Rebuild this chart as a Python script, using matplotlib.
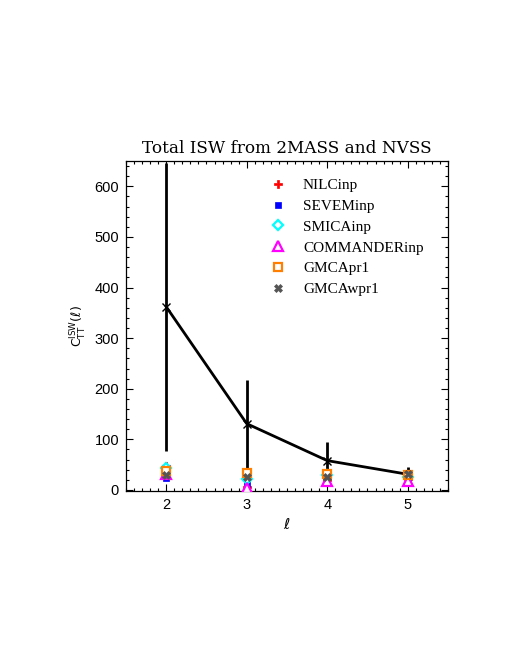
import matplotlib
matplotlib.use('Agg')
import matplotlib.pyplot as plt
from matplotlib.ticker import MultipleLocator

plt.rcParams.update({'font.family': 'Liberation Sans', 'font.size': 10})

# multipoles and total ISW spectrum with errors
ell = [2, 3, 4, 5]
cl_total = [362, 131, 58, 31]
cl_err = [285, 87, 36, 15]

# individual component-separated maps
names = ['NILCinp', 'SEVEMinp', 'SMICAinp', 'COMMANDERinp', 'GMCApr1', 'GMCAwpr1']
cl_nilc = [48, 6, 20, 22]
cl_sevem = [23, 9, 22, 24]
cl_smica = [43, 21, 30, 25]
cl_commander = [31, 4, 17, 18]
cl_gmcapr1 = [37, 34, 31, 29]
cl_gmcawpr1 = [29, 25, 26, 31]

series = [cl_nilc, cl_sevem, cl_smica, cl_commander, cl_gmcapr1, cl_gmcawpr1]
styles = [
    dict(marker='P', color='red', mfc='red', ms=5.5, mew=0.5),
    dict(marker='s', color='blue', mfc='blue', ms=5, mew=0.5),
    dict(marker='D', color='cyan', mfc='white', ms=5, mew=1.6),
    dict(marker='^', color='magenta', mfc='white', ms=6.5, mew=1.6),
    dict(marker='s', color='#ff7f00', mfc='white', ms=6, mew=1.6),
    dict(marker='X', color='#555555', mfc='#555555', ms=5.5, mew=0.5),
]

fig = plt.figure(figsize=(5.18, 6.70), dpi=100)
ax = fig.add_axes([0.2432, 0.2672, 0.6216, 0.4925])

ax.errorbar(ell, cl_total, yerr=cl_err, color='k', lw=2, elinewidth=2,
            marker='x', ms=6, mew=1, capsize=0, zorder=2)

for name, vals, st in zip(names, series, styles):
    ax.plot(ell, vals, ls='none', label=name, zorder=3, **st)

ax.set_xlim(1.5, 5.5)
ax.set_ylim(-2, 650)
ax.set_xticks(ell)
ax.xaxis.set_minor_locator(MultipleLocator(0.1))
ax.yaxis.set_major_locator(MultipleLocator(100))
ax.yaxis.set_minor_locator(MultipleLocator(20))
ax.tick_params(which='both', direction='in', top=True, right=True, width=0.8)
ax.tick_params(which='major', length=5, labelsize=10.5, pad=5)
ax.tick_params(which='minor', length=2.5)
for sp in ax.spines.values():
    sp.set_linewidth(0.9)

ax.set_title('Total ISW from 2MASS and NVSS', family='DejaVu Serif',
             fontsize=12.2, pad=6)
ax.set_xlabel(r'$\ell$', fontsize=11, labelpad=4)
ax.set_ylabel(r'$\mathrm{C}_{\mathrm{TT}}^{\mathrm{ISW}}(\ell)$', fontsize=9, labelpad=4)

leg = ax.legend(loc='upper left', bbox_to_anchor=(0.425, 0.965), frameon=False,
                prop={'family': 'Liberation Serif', 'size': 11},
                handlelength=1.2, handletextpad=1.03, labelspacing=0.46,
                borderaxespad=0, numpoints=1)

fig.savefig('out.png', dpi=100)
